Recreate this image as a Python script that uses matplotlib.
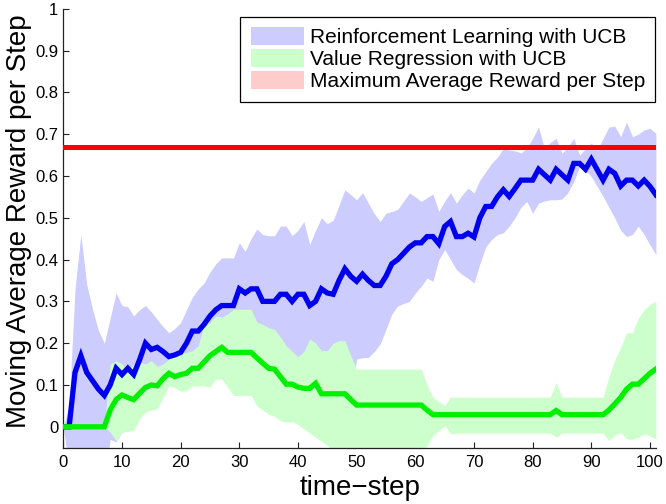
import matplotlib
matplotlib.use('Agg')
import matplotlib.pyplot as plt
from matplotlib.patches import Patch
import numpy as np

plt.rcParams['font.family'] = ['Liberation Sans', 'DejaVu Sans']

# time steps 0..101
steps = np.arange(102)

# Reinforcement Learning with UCB: mean, upper and lower band
rl_mean = [0, 0, 0.13, 0.17, 0.13, 0.11, 0.09, 0.075, 0.10, 0.14,
           0.125, 0.14, 0.125, 0.16, 0.20, 0.185, 0.19, 0.18, 0.168, 0.172,
           0.178, 0.20, 0.229, 0.229, 0.245, 0.265, 0.28, 0.29, 0.29, 0.29,
           0.33, 0.32, 0.33, 0.33, 0.30, 0.30, 0.30, 0.317, 0.317, 0.30,
           0.317, 0.317, 0.29, 0.30, 0.33, 0.32, 0.317, 0.35, 0.378, 0.36,
           0.348, 0.365, 0.35, 0.338, 0.338, 0.36, 0.39, 0.40, 0.415, 0.43,
           0.44, 0.44, 0.455, 0.455, 0.438, 0.479, 0.491, 0.455, 0.455, 0.463,
           0.454, 0.50, 0.527, 0.527, 0.55, 0.567, 0.551, 0.57, 0.59, 0.59,
           0.59, 0.616, 0.603, 0.59, 0.616, 0.603, 0.59, 0.63, 0.63, 0.616,
           0.64, 0.615, 0.59, 0.616, 0.606, 0.576, 0.59, 0.59, 0.576, 0.59,
           0.575, 0.555]
rl_upper = [0, 0.05, 0.33, 0.46, 0.34, 0.28, 0.23, 0.20, 0.26, 0.32,
            0.29, 0.287, 0.265, 0.28, 0.29, 0.275, 0.257, 0.24, 0.225, 0.235,
            0.249, 0.28, 0.31, 0.33, 0.344, 0.37, 0.39, 0.404, 0.404, 0.404,
            0.44, 0.42, 0.45, 0.473, 0.46, 0.457, 0.457, 0.48, 0.48, 0.457,
            0.47, 0.491, 0.436, 0.47, 0.50, 0.486, 0.494, 0.53, 0.567, 0.555,
            0.543, 0.56, 0.535, 0.51, 0.491, 0.511, 0.515, 0.52, 0.54, 0.559,
            0.55, 0.539, 0.548, 0.557, 0.515, 0.54, 0.56, 0.535, 0.555, 0.571,
            0.559, 0.59, 0.61, 0.63, 0.645, 0.666, 0.662, 0.66, 0.655, 0.666,
            0.69, 0.717, 0.666, 0.68, 0.69, 0.654, 0.67, 0.69, 0.65, 0.665,
            0.679, 0.662, 0.69, 0.717, 0.719, 0.694, 0.729, 0.694, 0.70, 0.71,
            0.714, 0.702]
rl_lower = [0, -0.1, -0.12, -0.12, -0.12, -0.12, -0.12, -0.12, -0.03, -0.036,
            -0.013, -0.01, -0.005, 0.08, 0.094, 0.10, 0.098, 0.115, 0.128, 0.12,
            0.125, 0.128, 0.14, 0.14, 0.155, 0.17, 0.18, 0.19, 0.178, 0.178,
            0.178, 0.178, 0.178, 0.165, 0.152, 0.14, 0.138, 0.12, 0.102, 0.102,
            0.095, 0.092, 0.092, 0.104, 0.079, 0.079, 0.079, 0.079, 0.079, 0.065,
            0.162, 0.165, 0.166, 0.18, 0.198, 0.233, 0.27, 0.289, 0.295, 0.30,
            0.32, 0.336, 0.356, 0.348, 0.40, 0.424, 0.40, 0.376, 0.364, 0.355,
            0.344, 0.39, 0.43, 0.448, 0.46, 0.464, 0.48, 0.50, 0.525, 0.539,
            0.511, 0.535, 0.54, 0.543, 0.543, 0.545, 0.56, 0.587, 0.622, 0.614,
            0.598, 0.575, 0.551, 0.525, 0.499, 0.47, 0.455, 0.46, 0.48, 0.46,
            0.435, 0.412]

# Value Regression with UCB: mean, upper and lower band
vr_mean = [0, 0, 0, 0, 0, 0, 0, 0, 0.04, 0.065,
           0.076, 0.07, 0.065, 0.08, 0.094, 0.10, 0.098, 0.115, 0.128, 0.12,
           0.125, 0.128, 0.14, 0.14, 0.155, 0.17, 0.18, 0.19, 0.178, 0.178,
           0.178, 0.178, 0.178, 0.165, 0.152, 0.14, 0.138, 0.12, 0.102, 0.102,
           0.095, 0.092, 0.092, 0.104, 0.079, 0.079, 0.079, 0.079, 0.079, 0.065,
           0.052, 0.052, 0.052, 0.052, 0.052, 0.052, 0.052, 0.052, 0.052, 0.052,
           0.052, 0.052, 0.04, 0.029, 0.029, 0.029, 0.029, 0.029, 0.029, 0.029,
           0.029, 0.029, 0.029, 0.029, 0.029, 0.029, 0.029, 0.029, 0.029, 0.029,
           0.029, 0.029, 0.029, 0.029, 0.039, 0.029, 0.029, 0.029, 0.029, 0.029,
           0.029, 0.029, 0.029, 0.04, 0.055, 0.07, 0.09, 0.102, 0.102, 0.115,
           0.128, 0.138]
vr_upper = [0, 0, 0, 0, 0, 0, 0, 0, 0.15, 0.158,
            0.15, 0.134, 0.15, 0.155, 0.15, 0.158, 0.145, 0.15, 0.162, 0.17,
            0.175, 0.178, 0.182, 0.194, 0.245, 0.25, 0.265, 0.262, 0.27, 0.281,
            0.281, 0.281, 0.281, 0.25, 0.245, 0.237, 0.233, 0.215, 0.194, 0.18,
            0.168, 0.18, 0.21, 0.20, 0.182, 0.182, 0.20, 0.206, 0.206, 0.17,
            0.138, 0.138, 0.138, 0.138, 0.138, 0.138, 0.138, 0.138, 0.138, 0.138,
            0.138, 0.138, 0.10, 0.071, 0.06, 0.051, 0.071, 0.071, 0.071, 0.071,
            0.071, 0.071, 0.071, 0.071, 0.071, 0.071, 0.071, 0.071, 0.071, 0.071,
            0.071, 0.071, 0.071, 0.071, 0.106, 0.071, 0.071, 0.071, 0.071, 0.071,
            0.071, 0.071, 0.071, 0.12, 0.16, 0.19, 0.225, 0.225, 0.26, 0.28,
            0.293, 0.30]
vr_lower = [0, 0, 0, 0, 0, 0, 0, 0, -0.013, -0.033,
            -0.013, -0.01, -0.009, 0.019, 0.035, 0.04, 0.043, 0.07, 0.098, 0.094,
            0.085, 0.086, 0.098, 0.098, 0.098, 0.095, 0.114, 0.114, 0.095, 0.075,
            0.075, 0.075, 0.075, 0.05, 0.04, 0.03, 0.025, 0.015, 0.011, 0.012,
            0.005, -0.005, -0.015, -0.025, -0.035, -0.044, -0.06, -0.07, -0.07, -0.07,
            -0.07, -0.07, -0.07, -0.07, -0.07, -0.07, -0.07, -0.07, -0.07, -0.07,
            -0.07, -0.07, -0.045, -0.021, -0.01, 0.003, -0.017, -0.015, -0.015, -0.015,
            -0.015, -0.015, -0.015, -0.015, -0.015, -0.015, -0.015, -0.015, -0.015, -0.015,
            -0.015, -0.015, -0.015, -0.015, -0.025, -0.015, -0.015, -0.015, -0.015, -0.015,
            -0.015, -0.015, -0.015, -0.033, -0.02, -0.013, -0.029, -0.03, -0.025, -0.017,
            -0.022, -0.029]

max_reward = 0.67

labels = ['Reinforcement Learning with UCB', 'Value Regression with UCB',
          'Maximum Average Reward per Step']

fig = plt.figure(figsize=(6.66, 5.04), dpi=100)
ax = fig.add_axes([0.095, 0.1117, 0.8898, 0.871])

band_blue = '#ccccff'
band_green = '#ccffcc'
band_red = '#ffcccc'

ax.fill_between(steps, rl_lower, rl_upper, color=band_blue, lw=0, zorder=1)
ax.fill_between(steps, vr_lower, vr_upper, color=band_green, lw=0, zorder=2)
ax.axhline(max_reward, color='#ff0000', lw=3.6, zorder=3)
ax.plot(steps, rl_mean, color='#0000ee', lw=3.8, zorder=4, solid_joinstyle='miter')
ax.plot(steps, vr_mean, color='#00f000', lw=3.8, zorder=5, solid_joinstyle='miter')

ax.set_xlim(0, 101)
ax.set_ylim(-0.05, 1)
ax.set_xticks(np.arange(0, 101, 10))
ax.set_yticks(np.arange(0, 1.01, 0.1))
ax.set_yticklabels(['0', '0.1', '0.2', '0.3', '0.4', '0.5', '0.6', '0.7', '0.8', '0.9', '1'])

for s in ['top', 'right']:
    ax.spines[s].set_visible(False)
for s in ['left', 'bottom']:
    ax.spines[s].set_linewidth(0.9)
    ax.spines[s].set_color('#222222')
ax.tick_params(axis='both', direction='in', length=4.5, width=0.8, labelsize=12, colors='#222222',
               labelcolor='black')
ax.tick_params(axis='y', pad=3.5)
ax.tick_params(axis='x', pad=5)

ax.set_xlabel('time\u2212step', fontsize=20)
ax.set_ylabel('Moving Average Reward per Step', fontsize=20)
ax.yaxis.set_label_coords(-0.052, 0.515)
ax.xaxis.set_label_coords(0.5, -0.062)

handles = [Patch(facecolor=band_blue, edgecolor='none'),
           Patch(facecolor=band_green, edgecolor='none'),
           Patch(facecolor=band_red, edgecolor='none')]
leg = ax.legend(handles, labels, loc='upper right', bbox_to_anchor=(0.999, 0.982),
                borderaxespad=0, fontsize=15, fancybox=False, framealpha=1,
                edgecolor='black', handlelength=2.55, handleheight=0.94,
                handletextpad=0.27, borderpad=0.5, labelspacing=0.1)
leg.get_frame().set_linewidth(0.9)

fig.savefig('out.png', dpi=100)
